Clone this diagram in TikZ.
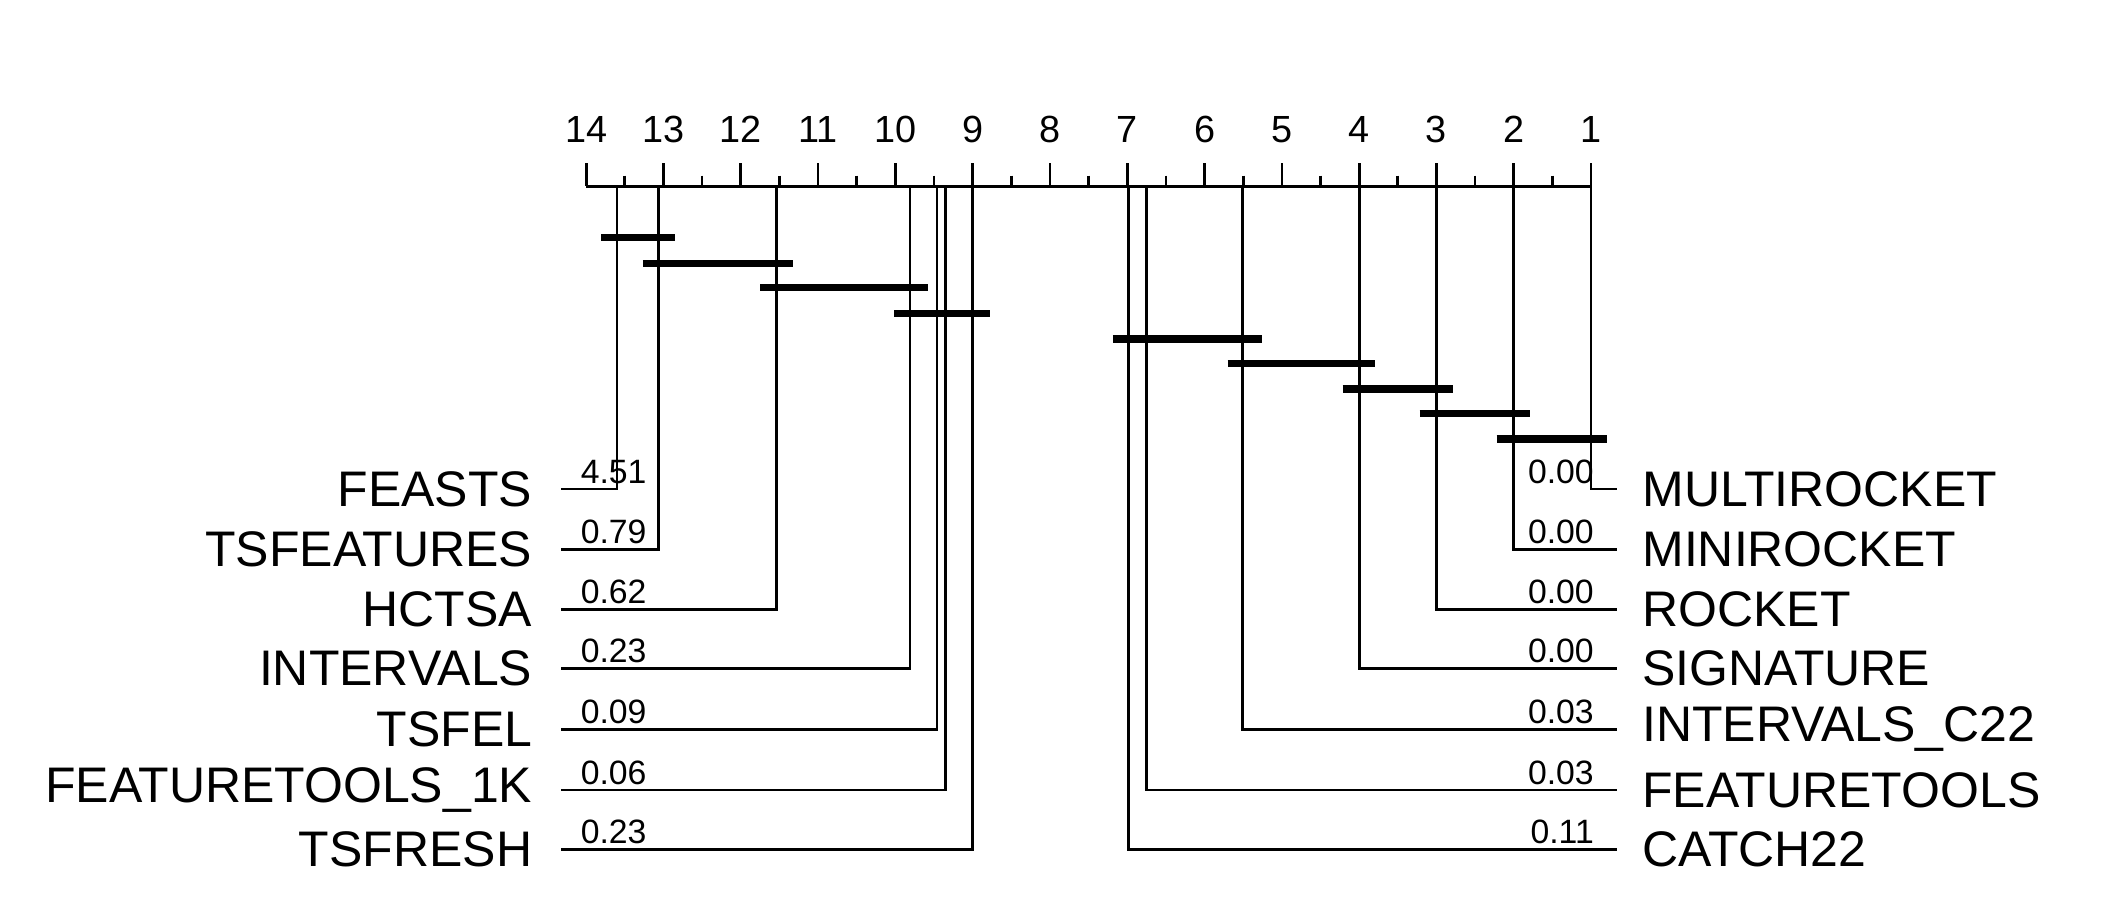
\documentclass[tikz,border=0pt]{standalone}
\usepackage{fontspec}
\setmainfont{Liberation Sans}
\begin{document}
\begin{tikzpicture}[x=1pt,y=-1pt,line width=2pt,
  lab/.style={font=\fontsize{37}{37}\selectfont,inner sep=0pt},
  val/.style={font=\fontsize{25}{25}\selectfont,inner sep=0pt},
  tick/.style={font=\fontsize{28}{28}\selectfont,inner sep=0pt},
  cd/.style={line width=5.5pt}]
\useasboundingbox (0,0) rectangle (1560,675);
\pgfmathsetmacro{\u}{744/13}
\draw (434,138) coordinate (a0) -- (1178,138) coordinate (a1);
\foreach \r in {1,...,14}{
  \draw ({434+(14-\r)*\u},121) -- ({434+(14-\r)*\u},138);
  \node[tick] (t\r) at ({434+(14-\r)*\u},96) {\r};}
\foreach \r in {1.5,2.5,...,13.5}{
  \draw ({434+(14-\r)*\u},130) -- ({434+(14-\r)*\u},138);}
% left
\foreach \r/\y/\n/\v [count=\i] in {13.60/362/FEASTS/4.51,13.06/407/TSFEATURES/0.79,11.54/451/HCTSA/0.62,9.81/495/INTERVALS/0.23,9.46/540/TSFEL/0.09,9.35/585/FEATURETOOLS\_1K/0.06,9.0/629/TSFRESH/0.23}{
  \coordinate (lt\i) at ({434+(14-\r)*\u},138);
  \coordinate (lb\i) at ({434+(14-\r)*\u},\y);
  \coordinate (le\i) at (415,\y);
  \draw (lt\i) -- (lb\i) -- (le\i);
  \node[lab,anchor=east] (ln\i) at (395,\y) {\n};
  \node[val,anchor=south west] (lv\i) at (429,{\y-3}) {\v};}
% right
\foreach \r/\y/\n/\v [count=\i] in {1.0/362/MULTIROCKET/0.00,2.0/407/MINIROCKET/0.00,3.0/451/ROCKET/0.00,4.0/495/SIGNATURE/0.00,5.51/540/INTERVALS\_C22/0.03,6.75/585/FEATURETOOLS/0.03,6.98/629/CATCH22/0.11}{
  \coordinate (rt\i) at ({434+(14-\r)*\u},138);
  \coordinate (rb\i) at ({434+(14-\r)*\u},\y);
  \coordinate (re\i) at (1197,\y);
  \draw (rt\i) -- (rb\i) -- (re\i);
  \node[lab,anchor=west] (rn\i) at (1215,\y) {\n};
  \node[val,anchor=south east] (rv\i) at (1181,{\y-3}) {\v};}
% cliques
\foreach \a/\b/\y in {445/500/176,476/587/195,563/687/213,662/733/232,824/934/251,909/1018/269,994/1076/288,1051/1133/306,1108/1190/325}{
  \draw[cd] (\a,\y) -- (\b,\y);}
\end{tikzpicture}
\end{document}
